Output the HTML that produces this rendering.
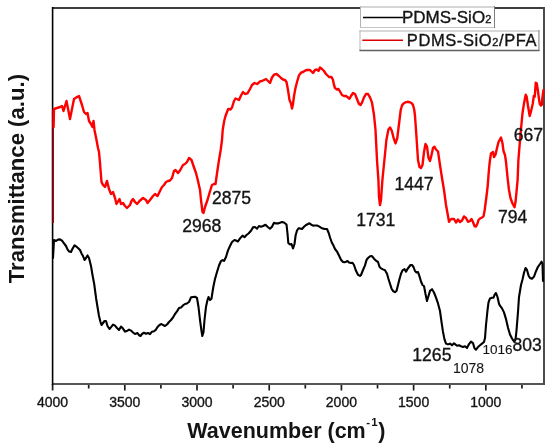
<!DOCTYPE html>
<html><head><meta charset="utf-8"><style>
html,body{margin:0;padding:0;background:#fff;}
svg{display:block;}
text{font-family:"Liberation Sans",Arial,sans-serif;fill:#141414;}
</style></head><body>
<svg width="550" height="448" viewBox="0 0 550 448" stroke="#141414" stroke-width="0.35">
<rect width="550" height="448" fill="#fff" stroke="none"/>
<g stroke="#1a1a1a" stroke-width="1.7"><line x1="52.60" y1="384" x2="52.60" y2="390.5" /><line x1="88.70" y1="384" x2="88.70" y2="388.5" /><line x1="124.81" y1="384" x2="124.81" y2="390.5" /><line x1="160.91" y1="384" x2="160.91" y2="388.5" /><line x1="197.01" y1="384" x2="197.01" y2="390.5" /><line x1="233.11" y1="384" x2="233.11" y2="388.5" /><line x1="269.22" y1="384" x2="269.22" y2="390.5" /><line x1="305.32" y1="384" x2="305.32" y2="388.5" /><line x1="341.42" y1="384" x2="341.42" y2="390.5" /><line x1="377.53" y1="384" x2="377.53" y2="388.5" /><line x1="413.63" y1="384" x2="413.63" y2="390.5" /><line x1="449.73" y1="384" x2="449.73" y2="388.5" /><line x1="485.84" y1="384" x2="485.84" y2="390.5" /><line x1="521.94" y1="384" x2="521.94" y2="388.5" /></g>
<line x1="52" y1="8" x2="545" y2="8" stroke="#3c3c3c" stroke-width="2"/>
<line x1="52" y1="384" x2="545" y2="384" stroke="#555" stroke-width="2"/>
<line x1="544" y1="7" x2="544" y2="385" stroke="#4a4a4a" stroke-width="2"/>
<line x1="52.6" y1="7" x2="52.6" y2="385" stroke="#000" stroke-width="1.6"/>
<polyline points="53,258 54,240 56,241 58,239.6 60,239.4 62,240.7 64,243.4 66,246 67.5,249.4 69,251.4 71,252 72.5,248.7 74.5,245.4 76.5,246.7 78,248 80,250 81.5,253.4 83,256 84.5,260 86,258 87.5,255.4 89,258 91,266 92.5,275 94.2,284 96.2,299 98,310 99,316 100.5,322 101.5,325 103,323 104.5,321 106,321 107.5,326 109.5,329 111.5,326.6 113,324.6 115,325.6 117,328 119,330 121,326.6 123,328.6 125,331.6 127,331 129,329.6 131,330.6 133,332.5 135,334 137.5,333 139,335.2 140.5,336 142,334 144,332.7 146,333.7 148,333 150,334.2 152,331.7 154,331.2 156,329.6 157.5,327 159.5,325 161.5,324 163,325 165,326 167,324.5 169,322 171,320 173,317.5 175,314 177,311.4 179,308 181,307.4 183,305.4 185,304 187,303.4 189,302 191,297.4 193,297 195,296.7 197,298 198.5,307 200,320 201.5,331 202.3,336 203.5,332.2 204.5,320 206,306.8 207.5,300 208.5,297 210,300 211.5,298.7 212.5,292 213.5,286 215,279 217,272 219,265.5 221,261 222.5,260 224,261 226,257 228,250.4 230,246 232,242 234.5,240 236,240.5 238,241.5 240,238.4 242.5,235.7 244.5,237.2 246.5,235 248.5,233.5 251,230.7 253,227.4 255,227 257,228.7 259,226 261,226.7 263,226 265.5,224.7 267.5,226.7 270,228.7 272,226.7 274,222.7 276,223.4 278,223.4 280,222.7 282,222 284,222.5 286.5,224.5 287.5,233.5 288.3,243 290,244.5 291.5,244 293,248.3 294.5,244 295.6,235.5 297,230.5 298.5,228.4 300,228.4 302,229 304,226.8 306,225 308,224 309.5,223.2 311,224.5 313,225.6 315,225.5 317,225.5 319,226.4 321,227.7 323,228.6 325,229 327,229 328.7,233 330.2,238 331.8,242.5 333.5,245.6 335,249 337,251.5 339,255.5 341,259.7 343,262 344.5,262.3 346,261.8 347.5,261 349,262.5 351,263 352.5,262.7 354,265 356,270.8 358,274.8 360,275.9 361,275 363,270 365,265.4 366.5,260 368,258 370,256.3 372,256 374,258.7 376,260.7 378,262 379.5,266.8 381,268.4 383,269.4 385,270.2 387,273.7 388.5,279 390,283.8 391.5,288.4 393,291 395,292.2 396.5,291 398,285 399.5,279 401,273.7 402.5,270.4 404.5,269 406,271.7 407.5,269 409,267 410.5,265 412,265 413.5,267 415,271 416.5,272.4 418,272 419.5,276.4 421,281.5 422.5,285 424,286 425.5,294 427,301 428.5,296 430,290.9 432,289.2 434,292.5 436,297.6 438,303.4 440,311 441.5,321.8 443,331.9 444.5,339.4 446,343.6 448,344.4 450,343.6 452,345.3 454,343.3 455,344.1 457,345.7 459,345.2 461,346.2 463,347 465,346.2 467,348 469,344.1 471,341.6 473,343.1 474.5,348.2 476,349.7 478,347 480,345.2 482,343.6 484,342 485,338 486,325 487.5,310.4 488.5,302.4 490,298.4 492,297.7 493.5,297.7 494.5,295 496,293 497.5,297 499,303.7 500,305.7 502,308.4 504,312.4 506,319.1 508,327.8 510,334.5 512,338.5 514,341.5 515.5,339.8 516.5,330.5 518,311.8 519,297 521,285 522.5,279.4 524,272.7 525.5,268 527,270 528.5,275.4 530,278 532,278.8 534,276.6 536,271.2 538,266.8 540,264 541.5,261.7 542.5,264 543,281" fill="none" stroke="#000" stroke-width="2.1" stroke-linejoin="round" stroke-linecap="round"/>
<line x1="52.9" y1="223" x2="52.9" y2="110" stroke="#800010" stroke-width="2"/>
<polyline points="53.6,127 54,109 57,108 60,107 62,106 63.5,111 66.5,101 70,119 74,99 77,97 79,96 82,105 84,112 86,114 87.5,113 89,121 91,124 92.5,127 93.5,121 94.5,130 96.5,140 98,148 99,152 100,163 101.5,182 103,185 105,187 107,181 109,189 111,194 113,192 115,198 116.5,204 119.5,199 121,204 123,203 125,206 127,208 129,206 130,205 131.5,201 133,199 135,202 137,204 139.5,201 143,198 146,200 147.5,203 150,200 153,196 155,194 157.5,196 160,191 162,187 164,185 166,182 168,181 170,180.5 172,178 174,171 175.5,170 178,173 180,170.5 183,165 185,164 187,162 189,158 191.5,160 193.5,166 196,173 198,181 200,190 201,200 202.5,212 203.5,213 205,207 207.5,200 209.5,193 212,185 214,184 215.5,184 216.5,177 217.5,170 219,160 220.7,150 222,140 222.7,130 223.5,125 224.2,121 225.5,116 226.8,112.5 228.2,109 230.5,109.5 232,107.5 234,101 235.5,98.5 239,100 241,95.5 243,92 245,94 247.5,93.4 250,89 252,85 254.5,83 257,84 259,82.5 260,81.4 262,81 264,80 266,79 268,81 270,83 272,77.5 274,74.7 276.5,74 279,76 281,78 283,79.5 285,80 286.5,82 288,90 289.5,100 291,103.5 292,108.5 293,104 294,96 295.5,88 297,82 299,75.4 301,72.7 303,72 305,70.7 307,70 310,70 312,72 313,73 315,70 317,69.5 318.5,71 320,67.5 322,69 324,71 326,74 329,77 331.5,77 333,80 334,85 335,88 337,89.5 338.5,89 340,91.5 342,95 344,96 346,96 348,97.5 349.5,98.8 351,96 353,93 355,94 357,99 359,104 360.5,105 362,102.7 364,97.4 366,94 368,94 370,97.4 372,102.7 374,115 375.5,130 377,160 378.4,180 379,197 380,205 381,200 382.4,180 384.4,160 386.4,140 388.4,129.4 390,127.4 391.8,130.7 393.8,138.7 395.5,143.4 397.3,138 398.5,128 399.5,120 400.7,110 402,105.5 403.5,103.5 405.5,102.3 407.5,101.8 409.5,102.2 411.5,103 413,105 414.3,110 415,116 416,130 417,145 418,160 419.5,167 421,168 422.5,165 424,152 425.5,144 427,146.7 428.5,158 430,161 431.5,155 433,148 434.5,146.7 436,149.5 438,151.5 440,165 442,178 444,190 446,205 448,216 449,221.8 450,220 451.5,219 454,219 456,222.5 458,219.5 460,222 462,220.5 464,216.4 466,218 468,221.8 470,221 471.5,219 473,222 474.5,226 476,226.5 477.5,223.5 478.5,220 480,218.5 482,217.5 483.5,216.4 484.7,210 486,200 487,192 487.8,185 488.5,175 489.4,165 490,160 491,153.4 493,152 494,157 495.5,154.7 497,148 498.5,142 500,139.4 501,137.5 502.5,143.4 503.5,151 505,155 506,162 507,172 507.8,180 509,190 510.5,198 512.5,203.5 514.5,207.3 515.5,202 516.5,192 517.6,180 518.4,160 520,140 521.2,127 522.4,114 524,103.4 525.7,94.7 526.7,96.8 528,106 529.7,116 531,111.5 532.8,103.4 533.8,96 534.7,96.8 535.8,82.7 536.8,83.4 537.8,90 538.7,96.8 539.8,104 540.9,105.5 541.8,104.8 542.5,96.8 543.5,90" fill="none" stroke="#ff0000" stroke-width="2.4" stroke-linejoin="round" stroke-linecap="round"/>
<g font-size="14"><text x="52.60" y="407.1" text-anchor="middle">4000</text><text x="124.81" y="407.1" text-anchor="middle">3500</text><text x="197.01" y="407.1" text-anchor="middle">3000</text><text x="269.22" y="407.1" text-anchor="middle">2500</text><text x="341.42" y="407.1" text-anchor="middle">2000</text><text x="413.63" y="407.1" text-anchor="middle">1500</text><text x="485.84" y="407.1" text-anchor="middle">1000</text></g>
<g font-size="17.6">
<text x="212" y="203.6">2875</text>
<text x="182.2" y="231.8">2968</text>
<text x="356.2" y="225.9">1731</text>
<text x="394.4" y="189.7">1447</text>
<text x="498" y="222.7">794</text>
<text x="513.7" y="140.5">667</text>
<text x="412.3" y="360.9">1265</text>
<text x="453" y="372.6" font-size="14" stroke-width="0.1">1078</text>
<text x="482.4" y="353.8" font-size="13.5" stroke-width="0.1">1016</text>
<text x="512.6" y="351.3" font-size="17.5">803</text>
</g>
<!-- legend -->
<rect x="360" y="6" width="135" height="22" fill="#fff" stroke="none"/>
<line x1="360" y1="7" x2="495" y2="7" stroke="#d6d6d6" stroke-width="2"/>
<line x1="360.5" y1="6" x2="360.5" y2="28" stroke="#b4b4b4" stroke-width="1"/>
<line x1="360" y1="27.5" x2="495" y2="27.5" stroke="#c4c4c4" stroke-width="1"/>
<line x1="494.5" y1="6" x2="494.5" y2="28" stroke="#808080" stroke-width="1"/>
<line x1="363" y1="17.5" x2="403" y2="17.5" stroke="#000" stroke-width="1.7"/>
<text x="402" y="23" font-size="17">PDMS-SiO<tspan font-size="11" dy="0">2</tspan></text>
<rect x="359.5" y="30" width="180" height="22" fill="#fff" stroke="none"/>
<line x1="359.5" y1="31" x2="539.5" y2="31" stroke="#d8d8d8" stroke-width="2"/>
<line x1="360" y1="30" x2="360" y2="51" stroke="#b8b8b8" stroke-width="1"/>
<line x1="538.9" y1="30" x2="538.9" y2="51" stroke="#a0a0a0" stroke-width="1.4"/>
<line x1="359.5" y1="50.5" x2="539.5" y2="50.5" stroke="#606060" stroke-width="1.6"/>
<line x1="362.3" y1="40.3" x2="403" y2="40.3" stroke="#dd0000" stroke-width="1.6"/>
<text x="406.8" y="45.7" font-size="16.5" letter-spacing="0.6">PDMS-SiO<tspan font-size="11">2</tspan>/PFA</text>
<!-- axis titles -->
<text x="187.3" y="438.4" font-size="21.5" font-weight="bold" fill="#111" stroke-width="0">Wavenumber (cm<tspan font-size="11.5" dy="-12" dx="0.6">-</tspan><tspan font-size="11.5" dx="1.2">1</tspan><tspan dy="12" dx="0.6">)</tspan></text>
<text transform="translate(24,283.2) rotate(-90) scale(0.972,0.985)" x="0" y="0" font-size="22.8" font-weight="bold" fill="#111" stroke-width="0">Transmittance (a.u.)</text>
</svg>
</body></html>
